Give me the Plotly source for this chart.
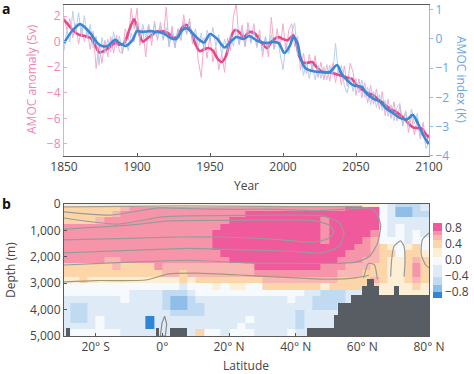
import plotly.graph_objects as go

# ---------------- Panel a data ----------------
YEARS = list(range(1850, 2101, 2))

PINK_ANNUAL = [
    2.0, 0.9, 1.8, 0.3, 1.4, -0.2, 1.1, 0.0, 0.9, -0.6,
    0.8, -2.1, -0.2, -1.7, 0.1, -1.2, 0.4, -0.9, 0.5, -0.8,
    -0.9, 1.0, 0.1, 2.6, 1.0, 2.6, -0.3, 1.0, -1.2, 1.3,
    -0.3, 1.6, 0.1, 1.5, 0.2, 2.7, -0.4, 1.2, -0.5, 1.0,
    0.1, 2.1, 0.6, 1.8, -0.2, 0.6, -1.5, -2.8, 0.3, -1.3,
    0.5, -1.6, -0.4, -2.2, -1.0, -2.4, 0.3, -0.7, 1.9, 3.0,
    -0.2, 1.3, -0.4, 1.5, 0.0, 1.4, -0.3, 0.9, -1.2, 0.3,
    -1.2, 1.9, -0.6, 1.0, -0.5, 1.4, -0.8, 0.9, 1.4, -0.4,
    0.4, -2.2, -0.9, -2.5, -1.0, -2.3, -1.1, -2.8, -1.6, -3.0,
    -1.8, -3.1, -1.7, -3.2, -2.0, -3.4, -1.9, -3.5, -1.7, -2.4,
    -4.2, -2.9, -4.4, -3.2, -4.8, -3.4, -4.9, -3.7, -5.3, -3.9,
    -5.8, -4.5, -6.0, -4.7, -6.2, -5.0, -6.6, -5.4, -7.1, -5.8,
    -7.3, -6.0, -7.6, -6.3, -8.0, -7.2,
]

BLUE_ANNUAL = [
    -0.4, 0.3, -0.1, 0.95, 0.2, 0.9, 0.1, 0.8, 0.0, 0.5,
    -0.3, 0.1, -0.9, 0.05, -0.5, 0.0, -0.45, 0.25, -0.3, 0.1,
    -0.5, 0.0, -0.4, 0.2, -0.1, 0.55, 0.0, 0.5, 0.05, 0.5,
    0.0, 0.5, 0.0, 0.45, -0.05, 0.4, -0.25, 0.3, -0.3, 0.35,
    -0.05, 0.6, 0.15, 0.6, -0.05, 0.35, -0.3, 0.2, -0.4, 0.3,
    -0.05, 0.4, -0.25, 0.15, -0.55, 0.0, -0.45, 0.15, -0.25, 0.35,
    -0.2, 0.3, -0.25, 0.35, -0.15, 0.3, -0.3, 0.15, -0.4, 0.1,
    -0.35, 0.15, -0.35, 0.1, -0.5, -1.05, -0.15, -0.5, 0.2, 0.55,
    -0.55, -0.5, -1.25, -0.8, -1.35, -0.85, -1.4, -0.9, -1.35, -0.95,
    -1.4, -0.9, -1.25, -0.15, -1.2, -0.9, -1.6, -1.85, -1.3, -1.8,
    -1.35, -1.85, -1.4, -2.0, -1.65, -2.25, -1.8, -2.35, -1.9, -2.45,
    -2.1, -2.65, -2.25, -2.8, -2.35, -2.2, -2.95, -2.5, -3.0, -2.4,
    -2.9, -2.55, -3.3, -3.1, -3.75, -3.5,
]

PINK_SMOOTH_YEARS = [
    1850, 1853, 1856, 1860, 1864, 1868, 1871, 1874, 1877, 1881,
    1885, 1888, 1891, 1895, 1898, 1901, 1904, 1907, 1910, 1914,
    1918, 1922, 1925, 1928, 1931, 1934, 1937, 1940, 1943, 1946,
    1949, 1952, 1955, 1958, 1961, 1964, 1967, 1970, 1973, 1977,
    1981, 1985, 1989, 1993, 1997, 2000, 2003, 2007, 2009, 2011,
    2014, 2017, 2020, 2023, 2026, 2029, 2032, 2035, 2038, 2041,
    2044, 2047, 2050, 2053, 2056, 2059, 2062, 2065, 2068, 2071,
    2074, 2077, 2080, 2083, 2086, 2089, 2092, 2095, 2098, 2100,
]
PINK_SMOOTH = [
    1.7, 1.3, 0.9, 0.55, 0.45, 0.3, -0.2, -0.85, -0.75, -0.45,
    -0.1, -0.25, -0.15, 1.0, 1.75, 0.8, 0.0, 0.25, 0.5, 0.8,
    0.8, 0.6, 0.3, 0.45, 1.1, 1.3, 0.8, -0.2, -0.75, -0.6,
    -0.5, -0.7, -1.3, -1.6, -1.1, 0.2, 0.9, 0.75, 0.35, 0.75,
    0.6, -0.05, -0.5, 0.1, 0.35, 0.2, 0.1, 0.5, 0.0, -1.1,
    -1.65, -1.65, -1.6, -2.0, -2.3, -2.4, -2.42, -2.5, -2.6, -2.7,
    -2.82, -2.9, -3.35, -3.65, -3.9, -4.05, -4.2, -4.5, -4.75, -5.05,
    -5.3, -5.45, -5.7, -6.0, -6.4, -6.7, -6.75, -6.8, -7.25, -7.5,
]

BLUE_SMOOTH_YEARS = [
    1850, 1855, 1861, 1864, 1868, 1873, 1876, 1880, 1885, 1888,
    1892, 1897, 1900, 1904, 1909, 1914, 1918, 1923, 1927, 1931,
    1934, 1938, 1942, 1946, 1950, 1955, 1960, 1964, 1968, 1973,
    1977, 1982, 1988, 1993, 1997, 2001, 2005, 2007, 2010, 2012,
    2015, 2020, 2025, 2032, 2037, 2040, 2044, 2047, 2049, 2054,
    2057, 2062, 2066, 2071, 2075, 2080, 2085, 2089, 2092, 2096,
    2100,
]
BLUE_SMOOTH = [
    -0.14, 0.24, 0.51, 0.41, 0.2, -0.14, -0.24, -0.24, -0.03, -0.14,
    -0.24, -0.03, 0.27, 0.24, 0.27, 0.24, 0.2, 0.03, 0.0, 0.3,
    0.37, 0.2, 0.0, -0.12, 0.17, 0.0, -0.29, -0.1, 0.07, 0.0,
    0.1, -0.05, -0.14, -0.1, -0.14, -0.48, -0.2, 0.07, -0.15, -0.65,
    -0.98, -1.1, -1.13, -1.13, -0.89, -1.18, -1.42, -1.55, -1.6, -1.64,
    -1.85, -2.05, -2.13, -2.4, -2.52, -2.7, -2.75, -2.6, -2.85, -3.29,
    -3.6,
]

YEAR_TICKS = [1850, 1900, 1950, 2000, 2050, 2100]
SV_TICKS = [2, 0, -2, -4, -6, -8]
K_TICKS = [1, 0, -1, -2, -3, -4]

# ---------------- Panel b data ----------------
# streamfunction change, one code per 2.5 deg cell (-30..80 deg) and depth layer
LEVEL = {"D": -0.87, "M": -0.70, "B": -0.52, "b": -0.27, "W": -0.02,
         "C": 0.19, "O": 0.40, "L": 0.56, "P": 0.675, "H": 0.83}
DEPTH_EDGES = [0, 120, 250, 500, 750, 1000, 1250, 1500, 1750, 2000, 2250, 2500,
               2750, 3000, 3250, 3500, 3750, 4000, 4250, 4500, 4750, 5000]
FIELD_ROWS = [
    "CCCC CCCC CCCC CCCC CCCC CCCC CCCC CCCC CCCC CCWb BBBb",
    "OOOO OOOL PPPP PPPP PPPP PPPP PPPP PPPP PPHH HHWb MMBb",
    "OOOO OOLP PPPP PPPP PPPP PPHH HHHH HHHH HHHH HHWb MMBB",
    "OOOO LPPP PPPP PPPP PPPP HHHH HHHH HHHP HHHH HHWb bbbb",
    "PPPP PPPP PPPP PPPP PPPH HHHH HHHH HHHP HHHH HHWb Wbbb",
    "PPPP PPPP PPPP PPPP PPHH HHHH HHHH HHHP HHHH HPWb WbWb",
    "PPPP PPPP PPPP PPPP PPHH HHHH HHHH HHHP HHHH PLWW WbWW",
    "PPPP PPPP PPPP PPPP PPHH HHHH HHHH HHHH HHHP PLOC WCOW",
    "PPPP PPPP PPPP PPPP PPPH HHHH HHHH HHHH HHPP PLOO WOOC",
    "PPPP PLLP PPPP PPPP PPPP HHHH HHHH HHHH HPPP LLOC COLO",
    "OOOO OOLO OOOP LLLL LLLL LLLH HHHH HHHP PPLL LOOC COPO",
    "OOOO OOOO OOOO LLOL LLLL LLLP PPPP PPPP PLLL OOOC COPO",
    "CCOC CCCC CCCC CCOC OOOO OOOO LLLL LLLL LOOO OLOC COLO",
    "WWWW WWWW WWWW WWbW WWCW CCWW OOOO OOOC OOOO OOCC CCOC",
    "WWWW WWWW bbbb BBBb WWWW WWWW WWWW WbbB BBbb CCCC CCCC",
    "bbbb bbbW bbbb BMMB bbbb bbbb bbbW bbBB BBbb bbbb bbbb",
    "bBBb bbbb bbbb BMMB Bbbb bbbb bbbb bbBB Bbbb bbbb bbbb",
    "bBBb bbbb bbbb bBBB Bbbb bbbb bbbb Bbbb bbbb bbbb bbbb",
    "bBBb Wbbb bbDb bbbb bbbb bbWb bbbb Bbbb bbbb bbbb bbbb",
    "bbbb Wbbb bbDb bbbb bbbb bWbb bbbb Bbbb bbbb bbbb bbbb",
    "bWWW WWWb bbbb bbbb OWWb WWWb bbbW bbbb bbbb bbbb bbbb",
]
LAT_EDGES = [-30 + 2.5 * i for i in range(45)]

# ocean floor (land) segments: start lat, end lat, top depth (m)
LAND_LAT0 = [-28.8, -1.8, 2.4, 43.5, 51.4, 52.6, 56.5, 60.0, 61.3, 63.4, 64.9, 69.4, 70.9]
LAND_LAT1 = [-27.6, -1.0, 7.5, 51.4, 52.6, 56.5, 60.0, 61.3, 63.4, 64.9, 69.4, 70.9, 80.0]
LAND_TOP = [4700, 4700, 4700, 4700, 4200, 3750, 3450, 3100, 2850, 3100, 3450, 3100, 3450]

# climatological streamfunction contours (lat, depth)
CT_A_LAT = [-29.5, -10, 5, 30, 50, 60]
CT_A_DEP = [110, 90, 70, 90, 100, 90]
CT_1_LAT = [-29.5, -10, 2, 20, 35, 45, 50, 51.5, 50, 45, 35, 20, 5, -10, -29.5]
CT_1_DEP = [950, 800, 640, 620, 600, 620, 800, 1050, 1300, 1450, 1350, 1260, 1250, 1300, 1360]
CT_2_LAT = [-29.5, -13.5, 0, 8, 25, 40, 48, 53, 54.5, 53, 48, 40, 25, 8, -10, -29.5]
CT_2_DEP = [530, 760, 490, 450, 430, 420, 450, 700, 1100, 1600, 1850, 1800, 1740, 1680, 1760, 1850]
CT_3_LAT = [-29.5, -15.6, -1, 10, 20, 35, 45, 55, 62, 64, 65.5, 64.5, 62, 58, 50, 40, 25, 8, -10, -29.5]
CT_3_DEP = [300, 420, 150, 180, 200, 200, 250, 200, 150, 300, 800, 1500, 2000, 2200, 2250, 2250, 2230, 2130, 2200, 2310]
CT_H_LAT = [-29.5, -20, -5, 2, 10, 25, 40, 50, 58, 62]
CT_H_DEP = [2950, 2900, 2880, 2650, 2620, 2700, 2800, 2850, 2800, 2700]
CT_R1_LAT = [68.5, 68.8, 69.5, 71.5, 72.5, 72.8, 72.5]
CT_R1_DEP = [2750, 2100, 1600, 1400, 1600, 2200, 2750]
CT_R2_LAT = [80, 78, 77.7, 79, 80]
CT_R2_DEP = [1100, 1360, 1930, 2310, 2420]
CT_R3_LAT = [60.4, 61.8, 63.6, 64.5]
CT_R3_DEP = [2800, 2250, 2300, 2850]
CT_S_LAT = [-0.6, -0.1, 0.7, 1.3, 0.9, -0.6]
CT_S_DEP = [5000, 4500, 4250, 4550, 5000, 5000]

LAT_TICKS = [-20, 0, 20, 40, 60, 80]
LAT_LABELS = ["20° S", "0°", "20° N", "40° N", "60° N", "80° N"]
DEPTH_TICKS = [0, 1000, 2000, 3000, 4000, 5000]
DEPTH_LABELS = ["0", "1,000", "2,000", "3,000", "4,000", "5,000"]
CB_TICKS = [0.8, 0.4, 0.0, -0.4, -0.8]
CB_LABELS = ["0.8", "0.4", "0.0", "\u22120.4", "\u22120.8"]

# discrete colour bands
BAND_EDGES = [-0.95, -0.79, -0.62, -0.42, -0.12, 0.08, 0.30, 0.50, 0.62, 0.73, 0.93]
BAND_COLORS = ["#2f86d6", "#8fbfe8", "#c0daf1", "#deebf7", "#f7fafd",
               "#fdeed6", "#fcd5a8", "#f9b7b3", "#f694aa", "#f05a9c"]

# ---------------- helpers ----------------
W, H = 474, 374
ML, MR, MT, MB = 64, 45, 5, 38
PW, PH = W - ML - MR, H - MT - MB


def px(x):
    return (x - ML) / PW


def py(y):
    return (H - MB - y) / PH


zmin, zmax = BAND_EDGES[0], BAND_EDGES[-1]
colorscale = []
for i, c in enumerate(BAND_COLORS):
    a = (BAND_EDGES[i] - zmin) / (zmax - zmin)
    b = (BAND_EDGES[i + 1] - zmin) / (zmax - zmin)
    colorscale.append([a, c])
    colorscale.append([b, c])

Z = [[LEVEL[ch] for ch in "".join(r.split())] for r in FIELD_ROWS]

PINK = "#e8478a"
PINK_LIGHT = "#f6aacb"
PINK_TXT = "#ee86b3"
BLUE = "#3a87d6"
BLUE_LIGHT = "#a9c8ee"
BLUE_TXT = "#6ca6de"
AX = "#5a5a5a"
TXT = "#444444"

fig = go.Figure()

# panel a
fig.add_trace(go.Scatter(x=YEARS, y=PINK_ANNUAL, mode="lines",
                         line=dict(color=PINK_LIGHT, width=1), xaxis="x", yaxis="y"))
fig.add_trace(go.Scatter(x=PINK_SMOOTH_YEARS, y=PINK_SMOOTH, mode="lines",
                         line=dict(color=PINK, width=2.6, shape="spline", smoothing=0.8),
                         xaxis="x", yaxis="y"))
fig.add_trace(go.Scatter(x=YEARS, y=BLUE_ANNUAL, mode="lines", opacity=0.85,
                         line=dict(color=BLUE_LIGHT, width=1), xaxis="x", yaxis="y2"))
fig.add_trace(go.Scatter(x=BLUE_SMOOTH_YEARS, y=BLUE_SMOOTH, mode="lines",
                         line=dict(color=BLUE, width=2.6, shape="spline", smoothing=0.8),
                         xaxis="x", yaxis="y2"))

# panel b
fig.add_trace(go.Heatmap(
    z=Z, x=LAT_EDGES, y=DEPTH_EDGES,
    zmin=zmin, zmax=zmax, colorscale=colorscale, xaxis="x2", yaxis="y3",
    hoverinfo="skip",
    colorbar=dict(x=px(433), xanchor="left", y=py(260.5), yanchor="middle",
                  len=75, lenmode="pixels", thickness=9, thicknessmode="pixels",
                  tickvals=CB_TICKS, ticktext=CB_LABELS, ticks="", outlinewidth=0,
                  tickfont=dict(size=12, color=TXT), xpad=0, ypad=0),
))

contours = [
    (CT_A_LAT, CT_A_DEP, "#a0a0a0", 0.6),
    (CT_1_LAT, CT_1_DEP, "#9a9a9a", 0.6),
    (CT_2_LAT, CT_2_DEP, "#9a9a9a", 0.6),
    (CT_3_LAT, CT_3_DEP, "#9a9a9a", 0.6),
    (CT_H_LAT, CT_H_DEP, "#a39a78", 0.6),
    (CT_R1_LAT, CT_R1_DEP, "#9a9a9a", 0.6),
    (CT_R2_LAT, CT_R2_DEP, "#9a9a9a", 0.6),
    (CT_R3_LAT, CT_R3_DEP, "#9a9a9a", 0.6),
    (CT_S_LAT, CT_S_DEP, "#8a8a8a", 0.0),
]
for la, de, col, sm in contours:
    fig.add_trace(go.Scatter(x=la, y=de, mode="lines", hoverinfo="skip",
                             line=dict(color=col, width=1.2,
                                       shape="spline" if sm > 0 else "linear",
                                       smoothing=sm if sm > 0 else None),
                             xaxis="x2", yaxis="y3"))

fig.add_trace(go.Bar(
    x=[(a + b) / 2 for a, b in zip(LAND_LAT0, LAND_LAT1)],
    width=[b - a for a, b in zip(LAND_LAT0, LAND_LAT1)],
    base=LAND_TOP, y=[5000 - t for t in LAND_TOP],
    marker=dict(color="#585c63", line=dict(width=0)),
    xaxis="x2", yaxis="y3", hoverinfo="skip",
))


def ann(text, x, y, size=12, color=TXT, angle=0, xanchor="center"):
    return dict(text=text, x=px(x), y=py(y), xref="paper", yref="paper",
                xanchor=xanchor, yanchor="middle", textangle=angle,
                showarrow=False, font=dict(size=size, color=color))


fig.update_layout(
    width=W, height=H, margin=dict(l=ML, r=MR, t=MT, b=MB, autoexpand=False),
    paper_bgcolor="white", plot_bgcolor="white", showlegend=False,
    font=dict(family="Open Sans", size=12, color=TXT),
    bargap=0,
    xaxis=dict(domain=[0, 1], anchor="y", range=[1850, 2100], tickvals=YEAR_TICKS,
               showline=True, linecolor=AX, linewidth=1, mirror=True,
               ticks="inside", ticklen=3, tickcolor=AX, showgrid=False, zeroline=False,
               tickfont=dict(size=12, color=TXT)),
    yaxis=dict(domain=[py(156), 1], anchor="x", range=[-8.94, 2.86], tickvals=SV_TICKS,
               showline=True, linecolor="#f3a6c8", linewidth=1,
               ticks="inside", ticklen=3, tickcolor="#f3a6c8",
               showgrid=False, zeroline=False, tickfont=dict(size=12, color=PINK_TXT)),
    yaxis2=dict(overlaying="y", side="right", anchor="x", range=[-4.007, 1.164],
                tickvals=K_TICKS, showline=True, linecolor="#8ebbea", linewidth=1,
                ticks="outside", ticklen=3, tickcolor="#8ebbea",
                showgrid=False, zeroline=False, tickfont=dict(size=12, color=BLUE_TXT)),
    xaxis2=dict(domain=[0, 1], anchor="y3", range=[-29.5, 80], tickvals=LAT_TICKS,
                ticktext=LAT_LABELS, showline=True, linecolor=AX, mirror=True,
                ticks="inside", ticklen=3, tickcolor=AX, showgrid=False, zeroline=False,
                tickfont=dict(size=12, color=TXT)),
    yaxis3=dict(domain=[0, py(204)], anchor="x2", range=[5000, 0], tickvals=DEPTH_TICKS,
                ticktext=DEPTH_LABELS, showline=True, linecolor=AX, mirror=True,
                ticks="inside", ticklen=3, tickcolor=AX, showgrid=False, zeroline=False,
                tickfont=dict(size=12, color=TXT)),
    annotations=[
        ann("<b>a</b>", 0, 8, size=14, color="#111", xanchor="left"),
        ann("<b>b</b>", 0, 203, size=14, color="#111", xanchor="left"),
        ann("AMOC anomaly (Sv)", 31, 79, color=PINK_TXT, angle=-90),
        ann("AMOC index (K)", 462, 79, color=BLUE_TXT, angle=90),
        ann("Year", 246, 185),
        ann("Depth (m)", 10, 270, angle=-90),
        ann("Latitude", 246, 366),
    ],
)

fig.write_html("out.html", config={"displayModeBar": False},
               post_script="document.body.style.margin='0';document.body.style.overflow='hidden';")
